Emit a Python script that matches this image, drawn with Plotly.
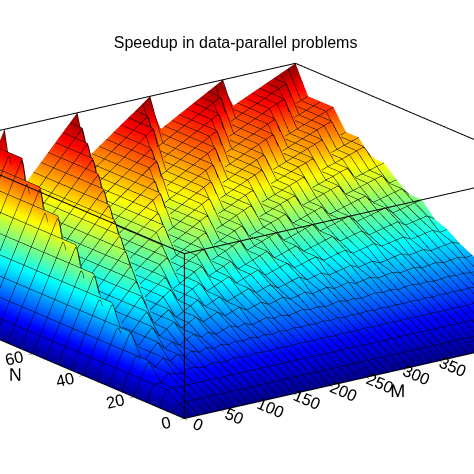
import plotly.graph_objects as go

# Grid: number of data items M and number of processors N
M_VALUES = [0, 10, 20, 30, 40, 50, 60, 70, 80, 90, 100, 110, 120, 130, 140, 150, 160, 170, 180, 190, 200,
            210, 220, 230, 240, 250, 260, 270, 280, 290, 300, 310, 320, 330, 340, 350, 360, 370, 380, 390, 400,
            410, 420, 430, 440, 450, 460, 470, 480, 490, 500]
N_VALUES = [0, 5, 10, 15, 20, 25, 30, 35, 40, 45, 50, 55, 60, 65, 70, 75, 80, 85, 90, 95, 100]

# Speedup read from the surface, one row per N value (columns follow M_VALUES)
S_N0 = [0, 0, 0, 0, 0, 0, 0, 0, 0, 0, 0, 0, 0, 0, 0, 0, 0, 0, 0, 0, 0, 0, 0, 0, 0, 0,
        0, 0, 0, 0, 0, 0, 0, 0, 0, 0, 0, 0, 0, 0, 0, 0, 0, 0, 0, 0, 0, 0, 0, 0, 0]
S_N5 = [0, 5, 5, 5, 5, 5, 5, 5, 5, 5, 5, 5, 5, 5, 5, 5, 5, 5, 5, 5, 5, 5, 5, 5, 5, 5,
        5, 5, 5, 5, 5, 5, 5, 5, 5, 5, 5, 5, 5, 5, 5, 5, 5, 5, 5, 5, 5, 5, 5, 5, 5]
S_N10 = [0, 10, 10, 10, 10, 10, 10, 10, 10, 10, 10, 10, 10, 10, 10, 10, 10, 10, 10, 10, 10, 10, 10, 10, 10, 10,
         10, 10, 10, 10, 10, 10, 10, 10, 10, 10, 10, 10, 10, 10, 10, 10, 10, 10, 10, 10, 10, 10, 10, 10, 10]
S_N15 = [0, 10, 10, 15, 13.3, 12.5, 15, 14, 13.3, 15, 14.3, 13.8, 15, 14.4, 14, 15, 14.5, 14.2, 15, 14.6, 14.3,
         15, 14.7, 14.4, 15, 14.7, 14.4, 15, 14.7, 14.5, 15, 14.8, 14.5, 15, 14.8, 14.6, 15, 14.8, 14.6, 15,
         14.8, 14.6, 15, 14.8, 14.7, 15, 14.8, 14.7, 15, 14.8, 14.7]
S_N20 = [0, 10, 20, 15, 20, 16.7, 20, 17.5, 20, 18, 20, 18.3, 20, 18.6, 20, 18.8, 20, 18.9, 20, 19, 20,
         19.1, 20, 19.2, 20, 19.2, 20, 19.3, 20, 19.3, 20, 19.4, 20, 19.4, 20, 19.4, 20, 19.5, 20, 19.5, 20,
         19.5, 20, 19.5, 20, 19.6, 20, 19.6, 20, 19.6, 20]
S_N25 = [0, 10, 20, 15, 20, 25, 20, 23.3, 20, 22.5, 25, 22, 24, 21.7, 23.3, 25, 22.9, 24.3, 22.5, 23.8, 25,
         23.3, 24.4, 23, 24, 25, 23.6, 24.5, 23.3, 24.2, 25, 23.8, 24.6, 23.6, 24.3, 25, 24, 24.7, 23.8, 24.4, 25,
         24.1, 24.7, 23.9, 24.4, 25, 24.2, 24.7, 24, 24.5, 25]
S_N30 = [0, 10, 20, 30, 20, 25, 30, 23.3, 26.7, 30, 25, 27.5, 30, 26, 28, 30, 26.7, 28.3, 30, 27.1, 28.6,
         30, 27.5, 28.8, 30, 27.8, 28.9, 30, 28, 29, 30, 28.2, 29.1, 30, 28.3, 29.2, 30, 28.5, 29.2, 30,
         28.6, 29.3, 30, 28.7, 29.3, 30, 28.8, 29.4, 30, 28.8, 29.4]
S_N35 = [0, 10, 20, 30, 20, 25, 30, 35, 26.7, 30, 33.3, 27.5, 30, 32.5, 35, 30, 32, 34, 30, 31.7, 33.3,
         35, 31.4, 32.9, 34.3, 31.3, 32.5, 33.8, 35, 32.2, 33.3, 34.4, 32, 33, 34, 35, 32.7, 33.6, 34.5, 32.5,
         33.3, 34.2, 35, 33.1, 33.8, 34.6, 32.9, 33.6, 34.3, 35, 33.3]
S_N40 = [0, 10, 20, 30, 40, 25, 30, 35, 40, 30, 33.3, 36.7, 40, 32.5, 35, 37.5, 40, 34, 36, 38, 40,
         35, 36.7, 38.3, 40, 35.7, 37.1, 38.6, 40, 36.3, 37.5, 38.8, 40, 36.7, 37.8, 38.9, 40, 37, 38, 39, 40,
         37.3, 38.2, 39.1, 40, 37.5, 38.3, 39.2, 40, 37.7, 38.5]
S_N45 = [0, 10, 20, 30, 40, 25, 30, 35, 40, 45, 33.3, 36.7, 40, 43.3, 35, 37.5, 40, 42.5, 45, 38, 40,
         42, 44, 38.3, 40, 41.7, 43.3, 45, 40, 41.4, 42.9, 44.3, 40, 41.3, 42.5, 43.8, 45, 41.1, 42.2, 43.3,
         44.4, 41, 42, 43, 44, 45, 41.8, 42.7, 43.6, 44.5, 41.7]
S_N50 = [0, 10, 20, 30, 40, 50, 30, 35, 40, 45, 50, 36.7, 40, 43.3, 46.7, 50, 40, 42.5, 45, 47.5, 50,
         42, 44, 46, 48, 50, 43.3, 45, 46.7, 48.3, 50, 44.3, 45.7, 47.1, 48.6, 50, 45, 46.3, 47.5, 48.8, 50,
         45.6, 46.7, 47.8, 48.9, 50, 46, 47, 48, 49, 50]
S_N55 = [0, 10, 20, 30, 40, 50, 30, 35, 40, 45, 50, 55, 40, 43.3, 46.7, 50, 53.3, 42.5, 45, 47.5, 50,
         52.5, 55, 46, 48, 50, 52, 54, 46.7, 48.3, 50, 51.7, 53.3, 55, 48.6, 50, 51.4, 52.9, 54.3, 48.8,
         50, 51.3, 52.5, 53.8, 55, 50, 51.1, 52.2, 53.3, 54.4, 50]
S_N60 = [0, 10, 20, 30, 40, 50, 60, 35, 40, 45, 50, 55, 60, 43.3, 46.7, 50, 53.3, 56.7, 60, 47.5, 50,
         52.5, 55, 57.5, 60, 50, 52, 54, 56, 58, 60, 51.7, 53.3, 55, 56.7, 58.3, 60, 52.9, 54.3, 55.7,
         57.1, 58.6, 60, 53.8, 55, 56.3, 57.5, 58.8, 60, 54.4, 55.6]
S_N65 = [0, 10, 20, 30, 40, 50, 60, 35, 40, 45, 50, 55, 60, 65, 46.7, 50, 53.3, 56.7, 60, 63.3, 50,
         52.5, 55, 57.5, 60, 62.5, 65, 54, 56, 58, 60, 62, 64, 55, 56.7, 58.3, 60, 61.7, 63.3, 65,
         57.1, 58.6, 60, 61.4, 62.9, 64.3, 57.5, 58.8, 60, 61.3, 62.5]
S_N70 = [0, 10, 20, 30, 40, 50, 60, 70, 40, 45, 50, 55, 60, 65, 70, 50, 53.3, 56.7, 60, 63.3, 66.7,
         70, 55, 57.5, 60, 62.5, 65, 67.5, 70, 58, 60, 62, 64, 66, 68, 70, 60, 61.7, 63.3, 65,
         66.7, 68.3, 70, 61.4, 62.9, 64.3, 65.7, 67.1, 68.6, 70, 62.5]
S_N75 = [0, 10, 20, 30, 40, 50, 60, 70, 40, 45, 50, 55, 60, 65, 70, 75, 53.3, 56.7, 60, 63.3, 66.7,
         70, 73.3, 57.5, 60, 62.5, 65, 67.5, 70, 72.5, 75, 62, 64, 66, 68, 70, 72, 74, 63.3, 65,
         66.7, 68.3, 70, 71.7, 73.3, 75, 65.7, 67.1, 68.6, 70, 71.4]
S_N80 = [0, 10, 20, 30, 40, 50, 60, 70, 80, 45, 50, 55, 60, 65, 70, 75, 80, 56.7, 60, 63.3, 66.7,
         70, 73.3, 76.7, 80, 62.5, 65, 67.5, 70, 72.5, 75, 77.5, 80, 66, 68, 70, 72, 74, 76, 78,
         80, 68.3, 70, 71.7, 73.3, 75, 76.7, 78.3, 80, 70, 71.4]
S_N85 = [0, 10, 20, 30, 40, 50, 60, 70, 80, 45, 50, 55, 60, 65, 70, 75, 80, 85, 60, 63.3, 66.7,
         70, 73.3, 76.7, 80, 83.3, 65, 67.5, 70, 72.5, 75, 77.5, 80, 82.5, 85, 70, 72, 74, 76, 78,
         80, 82, 84, 71.7, 73.3, 75, 76.7, 78.3, 80, 81.7, 83.3]
S_N90 = [0, 10, 20, 30, 40, 50, 60, 70, 80, 90, 50, 55, 60, 65, 70, 75, 80, 85, 90, 63.3, 66.7,
         70, 73.3, 76.7, 80, 83.3, 86.7, 90, 70, 72.5, 75, 77.5, 80, 82.5, 85, 87.5, 90, 74, 76, 78,
         80, 82, 84, 86, 88, 90, 76.7, 78.3, 80, 81.7, 83.3]
S_N95 = [0, 10, 20, 30, 40, 50, 60, 70, 80, 90, 50, 55, 60, 65, 70, 75, 80, 85, 90, 95, 66.7,
         70, 73.3, 76.7, 80, 83.3, 86.7, 90, 93.3, 72.5, 75, 77.5, 80, 82.5, 85, 87.5, 90, 92.5, 95, 78,
         80, 82, 84, 86, 88, 90, 92, 94, 80, 81.7, 83.3]
S_N100 = [0, 10, 20, 30, 40, 50, 60, 70, 80, 90, 100, 55, 60, 65, 70, 75, 80, 85, 90, 95, 100,
          70, 73.3, 76.7, 80, 83.3, 86.7, 90, 93.3, 96.7, 100, 77.5, 80, 82.5, 85, 87.5, 90, 92.5, 95, 97.5,
          100, 82, 84, 86, 88, 90, 92, 94, 96, 98, 100]

SPEEDUP = [S_N0, S_N5, S_N10, S_N15, S_N20, S_N25, S_N30, S_N35, S_N40, S_N45, S_N50,
           S_N55, S_N60, S_N65, S_N70, S_N75, S_N80, S_N85, S_N90, S_N95, S_N100]

M_TICKS = [0, 50, 100, 150, 200, 250, 300, 350, 400, 450, 500]
N_TICKS = [0, 20, 40, 60, 80, 100]

TITLE = "Speedup in data-parallel problems"

JET = [[0.0, "rgb(0,0,143)"], [0.125, "rgb(0,0,255)"], [0.375, "rgb(0,255,255)"],
       [0.625, "rgb(255,255,0)"], [0.875, "rgb(255,0,0)"], [1.0, "rgb(128,0,0)"]]

FONT = "Liberation Sans, Arial, sans-serif"

z_top = max(max(r) for r in SPEEDUP)
x0, x1 = min(M_VALUES), max(M_VALUES)
y0, y1 = min(N_VALUES), max(N_VALUES)
z0, z1 = 0, z_top

fig = go.Figure()
fig.add_trace(go.Surface(
    x=M_VALUES, y=N_VALUES, z=SPEEDUP,
    colorscale=JET, cmin=z0, cmax=z1, showscale=False,
    lighting=dict(ambient=1.0, diffuse=0.0, specular=0.0, roughness=1.0, fresnel=0.0),
    contours=dict(
        x=dict(show=True, start=x0, end=x1, size=M_VALUES[1] - M_VALUES[0], color="black", width=3),
        y=dict(show=True, start=y0, end=y1, size=N_VALUES[1] - N_VALUES[0], color="black", width=3),
        z=dict(show=False),
    ),
    hoverinfo="skip",
))

# Axes box edges (from the axis extents)
corners = {}
for i, xx in enumerate((x0, x1)):
    for j, yy in enumerate((y0, y1)):
        for k, zz in enumerate((z0, z1)):
            corners[(i, j, k)] = (xx, yy, zz)
edges = []
for a in corners:
    for b in corners:
        if a < b and sum(abs(p - q) for p, q in zip(a, b)) == 1:
            edges.append((a, b))
bx, by, bz = [], [], []
for a, b in edges:
    for c in (a, b):
        bx.append(corners[c][0]); by.append(corners[c][1]); bz.append(corners[c][2])
    bx.append(None); by.append(None); bz.append(None)
fig.add_trace(go.Scatter3d(x=bx, y=by, z=bz, mode="lines",
                           line=dict(color="black", width=2), hoverinfo="skip", showlegend=False))

axis_common = dict(showbackground=False, showgrid=False, zeroline=False, showspikes=False,
                   ticks="outside", tickcolor="black", ticklen=5,
                   tickfont=dict(family=FONT, size=14, color="black"),
                   showline=True, linecolor="black", linewidth=1.5)

view_dir = (-1.679, -2.303, 0.933)
look_at = (-0.0154, 0.0, 0.0204)

fig.update_layout(
    width=474, height=474,
    margin=dict(l=0, r=0, t=0, b=0),
    paper_bgcolor="white",
    title=dict(text=TITLE, x=0.497, xanchor="center", y=1 - 42 / 474, yanchor="middle",
               font=dict(family=FONT, size=16, color="black")),
    scene=dict(
        domain=dict(x=[0, 1], y=[0, 1]),
        xaxis=dict(title=dict(text="M", font=dict(family=FONT, size=18, color="black")),
                   range=[x0, x1], tickvals=M_TICKS, **axis_common),
        yaxis=dict(title=dict(text="N", font=dict(family=FONT, size=18, color="black")),
                   range=[y0, y1], tickvals=N_TICKS, **axis_common),
        zaxis=dict(title=dict(text=""), range=[z0, z1], showticklabels=False,
                   **{k: v for k, v in axis_common.items() if k != "tickfont"}),
        aspectmode="manual", aspectratio=dict(x=1.90, y=1.81, z=0.732),
        camera=dict(eye=dict(x=look_at[0] + view_dir[0], y=look_at[1] + view_dir[1], z=look_at[2] + view_dir[2]),
                    center=dict(x=look_at[0], y=look_at[1], z=look_at[2]),
                    up=dict(x=0, y=0, z=1), projection=dict(type="orthographic")),
    ),
)

fig.write_html("out.html", config={"displayModeBar": False},
               post_script="document.body.style.margin='0px';document.body.style.padding='0px';")
